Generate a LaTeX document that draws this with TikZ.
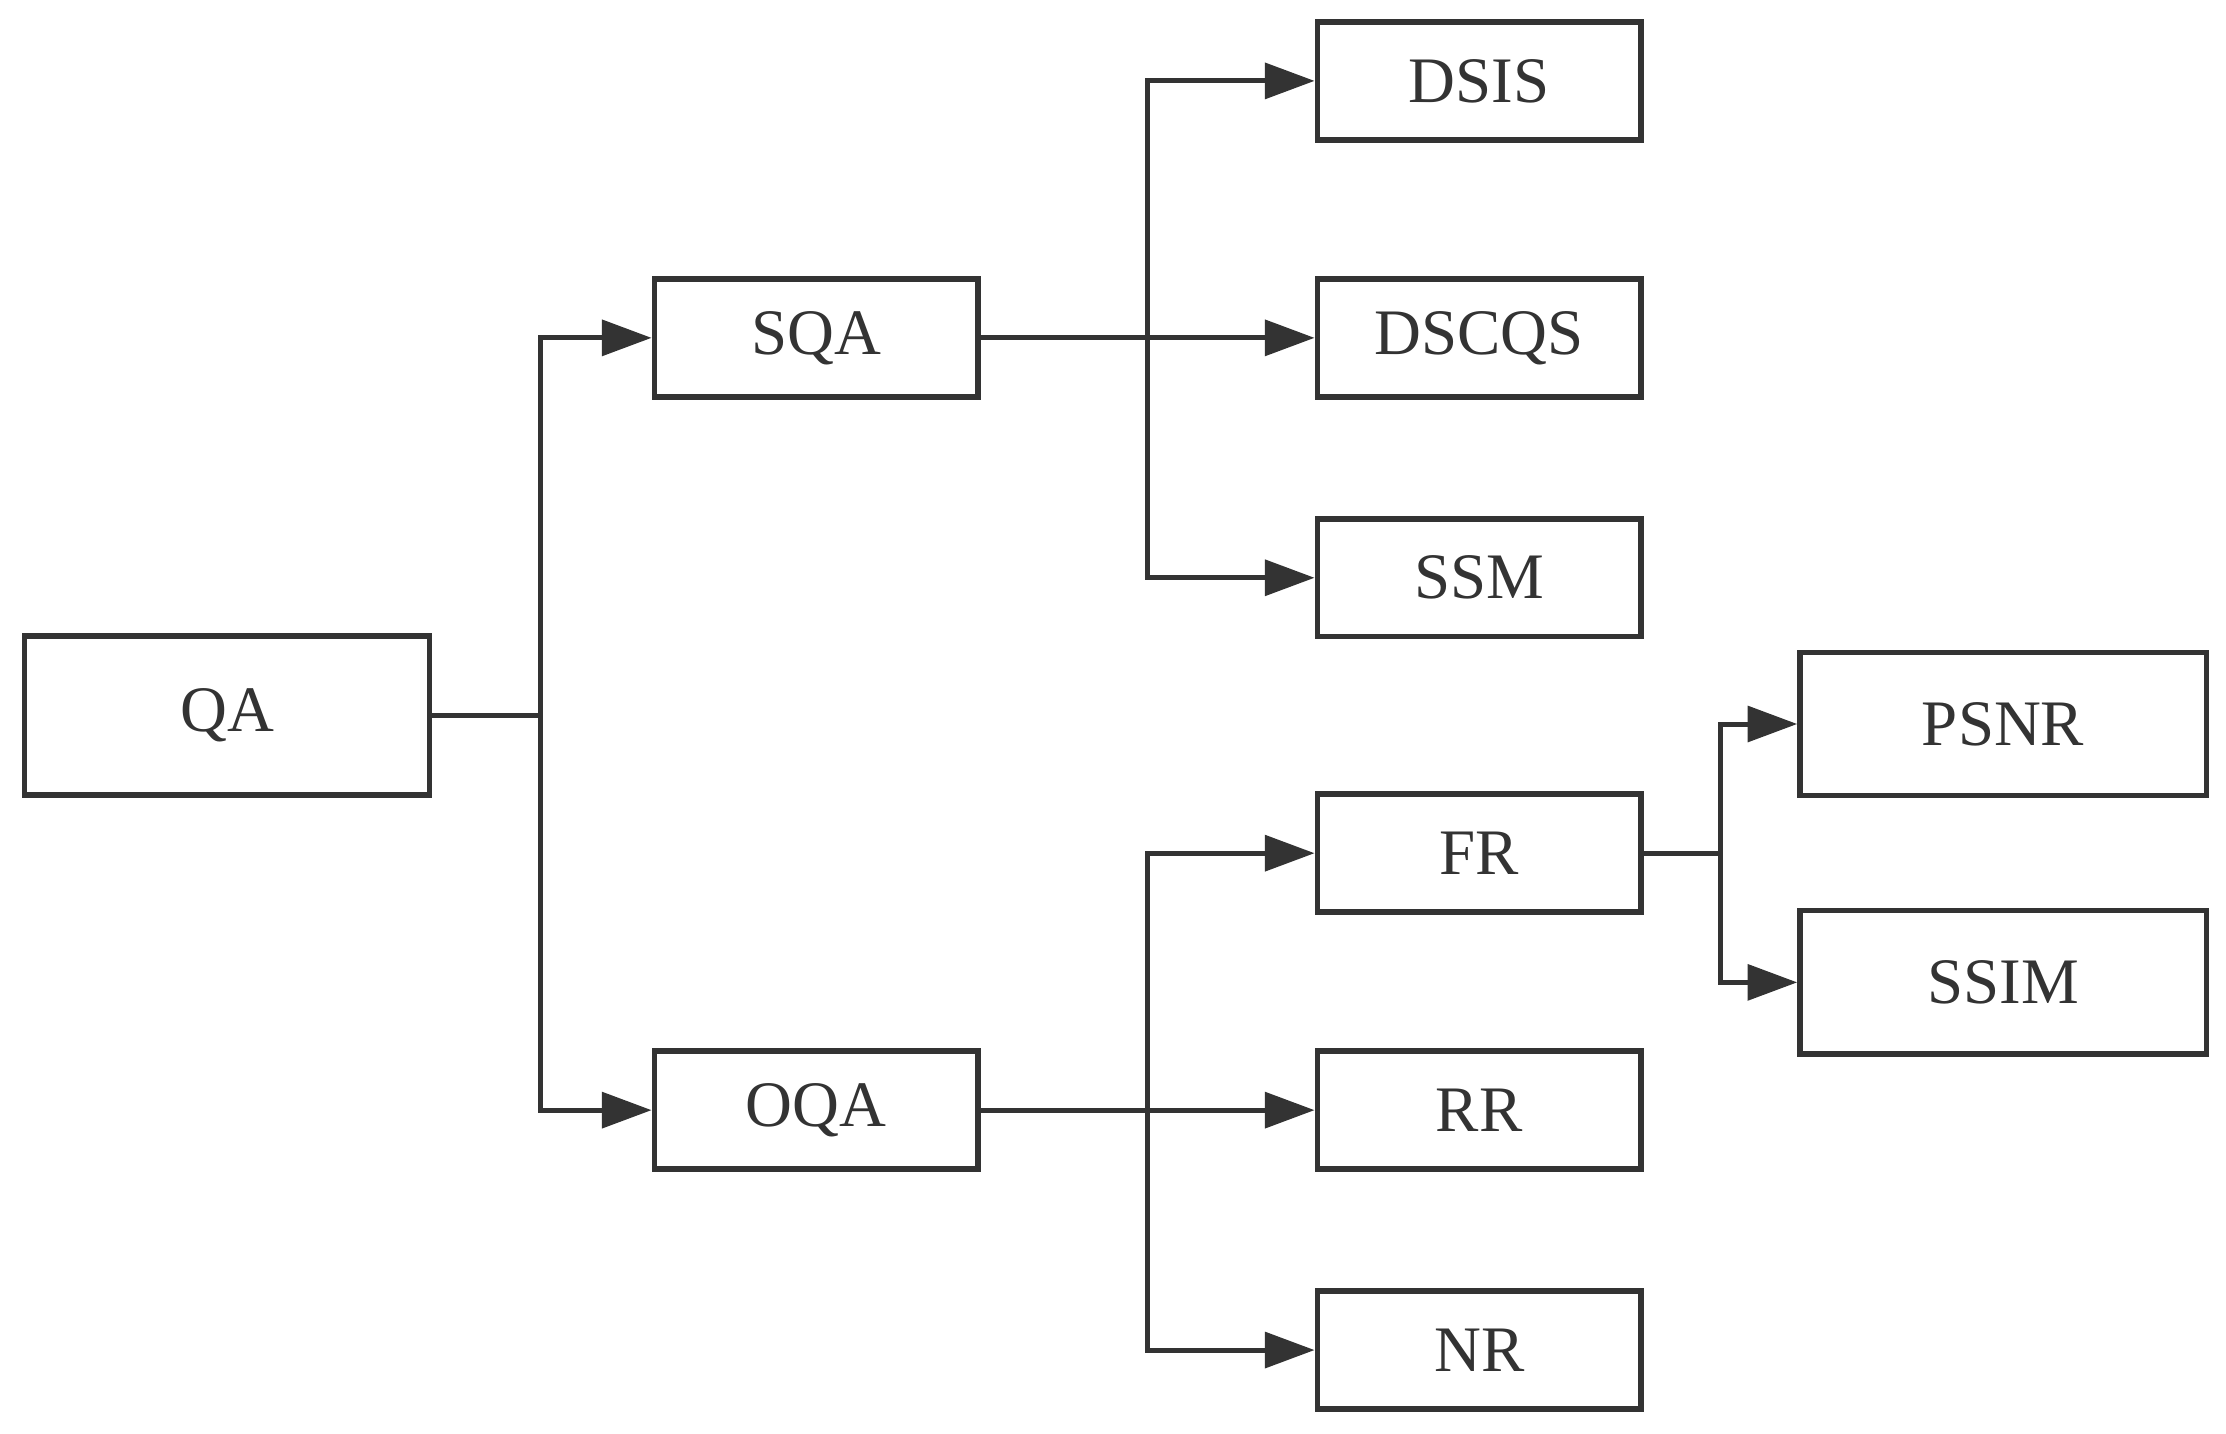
\documentclass[tikz,border=0pt]{standalone}
\usepackage{fontspec}
\setmainfont{Liberation Serif}
\usetikzlibrary{arrows.meta}
\definecolor{ln}{HTML}{333333}
\begin{document}
\begin{tikzpicture}[x=0.01cm,y=-0.01cm,
  box/.style={draw=ln,line width=1.1pt,fill=white,minimum height=0.83cm,minimum width=2.28cm,inner sep=0pt,font=\fontsize{13}{15}\selectfont,text=ln},
  arr/.style={draw=ln,line width=1pt,-{Triangle[length=0.35cm,width=0.25cm]}},
  ln/.style={draw=ln,line width=1pt}]
\useasboundingbox (0,0) rectangle (1568,1010);
\node[box,minimum width=2.85cm,minimum height=1.12cm] (qa) at (160,504) {QA};
\node[box] (sqa) at (575,238) {SQA};
\node[box] (oqa) at (575,782) {OQA};
\node[box] (dsis) at (1042,57) {DSIS};
\node[box] (dscqs) at (1042,238) {DSCQS};
\node[box] (ssm) at (1042,407) {SSM};
\node[box] (fr) at (1042,601) {FR};
\node[box] (rr) at (1042,782) {RR};
\node[box] (nr) at (1042,951) {NR};
\node[box,minimum width=2.86cm,minimum height=1.01cm] (psnr) at (1411,510) {PSNR};
\node[box,minimum width=2.86cm,minimum height=1.01cm] (ssim) at (1411,692) {SSIM};
\coordinate (b1) at (381,504);
\coordinate (b2) at (808,238);
\coordinate (b3) at (808,782);
\coordinate (b4) at (1212,601);
\draw[ln] (qa.east) -- (b1);
\draw[arr] (b1) |- (sqa.west);
\draw[arr] (b1) |- (oqa.west);
\draw[arr] (sqa.east) -- (dscqs.west);
\draw[arr] (b2) |- (dsis.west);
\draw[arr] (b2) |- (ssm.west);
\draw[arr] (oqa.east) -- (rr.west);
\draw[arr] (b3) |- (fr.west);
\draw[arr] (b3) |- (nr.west);
\draw[ln] (fr.east) -- (b4);
\draw[arr] (b4) |- (psnr.west);
\draw[arr] (b4) |- (ssim.west);
\end{tikzpicture}
\end{document}
